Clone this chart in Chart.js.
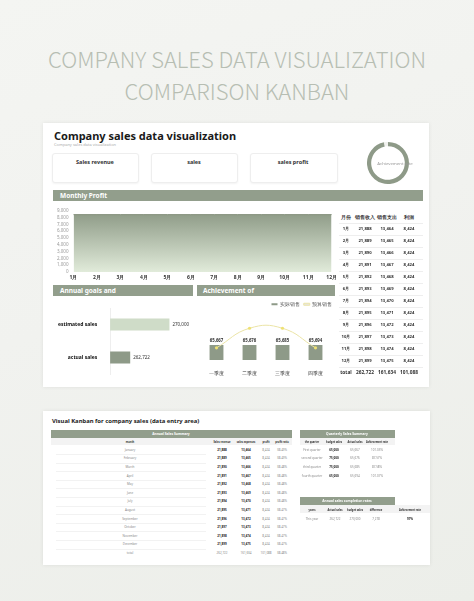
<!DOCTYPE html>
<html>
<head>
<meta charset="utf-8">
<script src="https://cdn.jsdelivr.net/npm/chart.js@4.4.0/dist/chart.umd.min.js"></script>
<style>
  html, body { margin:0; padding:0; }
  body { width:474px; height:601px; overflow:hidden; position:relative;
         font-family:"Noto Sans", sans-serif;
         background: linear-gradient(160deg, #f4f5f2 0%, #f1f2ef 45%, #eceee9 100%); }
  .t { position:absolute; white-space:nowrap; line-height:1; transform:translate(-50%,-50%); }
  .l { transform:translate(0,-50%); }
  .card { position:absolute; background:#fff; box-shadow:0 0 4px rgba(0,0,0,0.08); }
  .box { position:absolute; background:#fff; border:1px solid #eeeeee; border-radius:3px; box-shadow:0 1px 2px rgba(0,0,0,0.05); }
  .bar { position:absolute; background:#929e8c; }
  .hr { position:absolute; height:1px; background:#eeeeee; }
  canvas { position:absolute; }
  .title { font-family:"Noto Sans CJK SC","Noto Sans",sans-serif; font-weight:300; color:#b7beb3; font-size:22px; }
</style>
</head>
<body>

<div class="t title" style="left:237px;top:58px;">COMPANY SALES DATA VISUALIZATION</div>
<div class="t title" style="left:237px;top:90px;">COMPARISON KANBAN</div>

<div class="card" style="left:43px;top:123px;width:386px;height:264px;"></div>
<div class="card" style="left:43px;top:411px;width:387px;height:154px;"></div>

<div class="box" style="left:52px;top:153px;width:85px;height:28px;"></div>
<div class="box" style="left:151px;top:153px;width:85px;height:28px;"></div>
<div class="box" style="left:250px;top:153px;width:86px;height:28px;"></div>

<div class="bar" style="left:53px;top:190px;width:370px;height:11px;"></div>
<div class="bar" style="left:53px;top:285px;width:140px;height:11px;"></div>
<div class="bar" style="left:197px;top:285px;width:138px;height:11px;"></div>

<canvas id="ring" width="42" height="42" style="left:367px;top:142px;width:42px;height:42px;"></canvas>
<canvas id="profitChart" width="292" height="81" style="left:48px;top:203px;width:292px;height:81px;"></canvas>
<canvas id="goalChart" width="140" height="82" style="left:53px;top:300px;width:140px;height:82px;"></canvas>
<canvas id="quarterChart" width="140" height="82" style="left:196px;top:298px;width:140px;height:82px;"></canvas>

<div id="layer"></div>

<script>
// ---- data ----
const months = ['1月','2月','3月','4月','5月','6月','7月','8月','9月','10月','11月','12月'];
const monthNames = ['January','February','March','April','May','June','July','August','September','October','November','December'];
const revenue = [21888,21889,21890,21891,21892,21893,21894,21895,21896,21897,21898,21899];
const expenses = [13464,13465,13466,13467,13468,13469,13470,13471,13472,13473,13474,13475];
const profit = [8424,8424,8424,8424,8424,8424,8424,8424,8424,8424,8424,8424];
const profitRatio = ['38.49%','38.49%','38.48%','38.48%','38.48%','38.48%','38.48%','38.47%','38.47%','38.47%','38.47%','38.47%'];
const totals = ['262,722','161,634','101,088','38.48%'];
const profitTicks = [0,1000,2000,3000,4000,5000,6000,7000,8000,9000];

const goalLabels = ['estimated sales','actual sales'];
const goalValues = [270000,262722];

const quarters = ['一季度','二季度','三季度','四季度'];
const quarterNames = ['First quarter','second quarter','third quarter','fourth quarter'];
const actualSales = [65667,65676,65685,65694];
const budgetSales = [65000,75000,75000,65000];
const quarterRate = ['101.03%','87.57%','87.58%','101.07%'];

const achievement = 97;
const yearRow = ['This year','262,722','270,000','7,278','97%'];

const green = '#8e9a88';
const fmt = v => v.toLocaleString('en-US');

// ---- text helper ----
const layer = document.getElementById('layer');
function put(x, y, s, css, cls) {
  const d = document.createElement('div');
  d.className = 't' + (cls ? ' ' + cls : '');
  d.textContent = s;
  d.style.cssText = 'left:' + x + 'px;top:' + y + 'px;' + (css || '');
  layer.appendChild(d);
  return d;
}
function line(x, y, w, col) {
  const d = document.createElement('div');
  d.className = 'hr';
  d.style.cssText = 'left:' + x + 'px;top:' + y + 'px;width:' + w + 'px;' + (col ? 'background:' + col + ';' : '');
  layer.appendChild(d);
}
function block(x, y, w, h, col) {
  const d = document.createElement('div');
  d.style.cssText = 'position:absolute;left:' + x + 'px;top:' + y + 'px;width:' + w + 'px;height:' + h + 'px;background:' + col + ';';
  layer.appendChild(d);
}

// top card texts
put(54, 135, 'Company sales data visualization', 'font-size:11px;font-weight:700;color:#1a1a1a;', 'l');
put(54, 145, 'Company sales data visualization', 'font-size:4px;color:#aaa;', 'l');
put(95, 163, 'Sales revenue', 'font-size:5.5px;font-weight:700;color:#333;');
put(194, 163, 'sales', 'font-size:5.5px;font-weight:700;color:#333;');
put(293, 163, 'sales profit', 'font-size:5.5px;font-weight:700;color:#333;');
put(60, 195.5, 'Monthly Profit', 'font-size:6.5px;font-weight:700;color:#fff;', 'l');
put(60, 290.5, 'Annual goals and', 'font-size:6.5px;font-weight:700;color:#fff;', 'l');
put(203, 290.5, 'Achievement of', 'font-size:6.5px;font-weight:700;color:#fff;', 'l');

// monthly table (right side of top card)
const colX = [346, 365, 387, 409];
const thStyle = 'font-size:4.5px;font-weight:700;color:#333;';
const tdStyle = 'font-size:4.2px;font-weight:700;color:#333;';
['月份','销售收入','销售支出','利润'].forEach((h, i) => put(colX[i], 217, h, thStyle));
line(339, 223, 84);
months.forEach((m, i) => {
  const y = 229 + i * 12;
  put(colX[0], y, m, tdStyle);
  put(colX[1], y, fmt(revenue[i]), tdStyle);
  put(colX[2], y, fmt(expenses[i]), tdStyle);
  put(colX[3], y, fmt(profit[i]), tdStyle);
  line(339, y + 6, 84);
});
const totStyle = 'font-size:4.8px;font-weight:700;color:#333;';
put(colX[0], 372, 'total', totStyle);
totals.slice(0, 3).forEach((v, i) => put(colX[i + 1], 372, v, totStyle));

// bottom card
put(52, 422, 'Visual Kanban for company sales (data entry area)', 'font-size:5.9px;font-weight:700;color:#1a1a1a;', 'l');

block(51, 430, 241, 8, '#929e8c');
block(300, 430, 95, 8, '#929e8c');
block(300, 497, 95, 8, '#929e8c');
block(51, 438, 241, 7, '#f3f3f3');
block(300, 438, 95, 7, '#f3f3f3');
block(300, 505, 130, 8, '#f3f3f3');

const hs = 'font-size:3.3px;font-weight:700;color:#fff;';
put(171, 434, 'Annual Sales Summary', hs);
put(347, 434, 'Quarterly Sales Summary', hs);
put(347, 501, 'Annual sales completion rates', hs);

const ch = 'font-size:2.5px;font-weight:700;color:#333;';
const cb = 'font-size:3px;font-weight:700;color:#222;';
const cl = 'font-size:3px;color:#888;';
const bx = [130, 222, 246, 266, 282];
['month','Sales revenue','sales expenses','profit','profit ratio'].forEach((h, i) => put(bx[i], 441.7, h, ch));
monthNames.forEach((m, i) => {
  const y = 449.7 + i * 8.6;
  put(bx[0], y, m, cl);
  put(bx[1], y, fmt(revenue[i]), cb);
  put(bx[2], y, fmt(expenses[i]), cb);
  put(bx[3], y, fmt(profit[i]), cl);
  put(bx[4], y, profitRatio[i], cl);
  line(56, y + 4.3, 150, '#f2f2f2');
});
put(bx[0], 553, 'total', cl);
totals.forEach((v, i) => put(bx[i + 1], 553, v, cl));

const qx = [312, 334, 355, 377];
['the quarter','budget sales','Actual sales','Achievement rate'].forEach((h, i) => put(qx[i], 441.7, h, ch));
quarterNames.forEach((q, i) => {
  const y = 449.7 + i * 8.6;
  put(qx[0], y, q, cl);
  put(qx[1], y, fmt(budgetSales[i]), cb);
  put(qx[2], y, fmt(actualSales[i]), cl);
  put(qx[3], y, quarterRate[i], cl);
});

const yx = [312, 335, 355, 376, 410];
['years','Actual sales','budget sales','difference','Achievement rate'].forEach((h, i) => put(yx[i], 509.5, h, ch));
yearRow.forEach((v, i) => put(yx[i], 518.7, v, i === 4 ? cb : cl));

// ---- charts ----
Chart.defaults.font.family = '"Noto Sans", sans-serif';
Chart.defaults.animation = false;

// achievement ring
new Chart(document.getElementById('ring'), {
  type: 'doughnut',
  data: { labels: ['done', 'rest'], datasets: [{ data: [achievement, 100 - achievement], backgroundColor: [green, '#f1f2ef'], borderWidth: 0 }] },
  options: { responsive: false, cutout: '80%', plugins: { legend: { display: false }, tooltip: { enabled: false } } }
});
put(395, 163, 'Achievement rate', 'font-size:4.3px;color:#999;');

// monthly profit area
new Chart(document.getElementById('profitChart'), {
  type: 'line',
  data: {
    labels: months,
    datasets: [{
      data: profit,
      fill: true,
      borderColor: '#87947f',
      borderWidth: 1,
      pointRadius: 0,
      backgroundColor: c => {
        const a = c.chart.chartArea;
        if (!a) return green;
        const g = c.chart.ctx.createLinearGradient(0, a.top, 0, a.bottom);
        g.addColorStop(0, '#8b9884');
        g.addColorStop(1, '#e1ebda');
        return g;
      }
    }]
  },
  options: {
    responsive: false,
    layout: { padding: { left: 4, right: 3, top: 2 } },
    plugins: { legend: { display: false }, tooltip: { enabled: false } },
    scales: {
      x: { grid: { display: false, drawTicks: false }, border: { display: false },
           ticks: { font: { size: 5, weight: 'bold' }, color: '#333', padding: 3, maxRotation: 0, autoSkip: false } },
      y: { min: 0, max: 9000, afterBuildTicks: s => { s.ticks = profitTicks.map(v => ({ value: v })); },
           grid: { display: false, drawTicks: false }, border: { display: false },
           ticks: { font: { size: 4.5 }, color: '#999', padding: 5, autoSkip: false, callback: v => fmt(v) } }
    }
  }
});

// annual goals horizontal bars
new Chart(document.getElementById('goalChart'), {
  type: 'bar',
  data: { labels: goalLabels, datasets: [{ data: goalValues, backgroundColor: ['#cfdcc8', green], barPercentage: 0.36, categoryPercentage: 1 }] },
  options: {
    indexAxis: 'y',
    responsive: false,
    layout: { padding: { right: 2 } },
    plugins: { legend: { display: false }, tooltip: { enabled: false } },
    scales: {
      x: { min: 259000, max: 274000, display: false },
      y: { grid: { display: false }, border: { color: '#eeeeee' },
           ticks: { font: { size: 5, weight: 'bold' }, color: '#111', padding: 5 } }
    }
  },
  plugins: [{
    id: 'goalValues',
    afterDatasetsDraw(chart) {
      const ctx = chart.ctx;
      ctx.save();
      ctx.font = '4.5px "Noto Sans"';
      ctx.fillStyle = '#333';
      ctx.textBaseline = 'middle';
      chart.getDatasetMeta(0).data.forEach((el, i) => ctx.fillText(fmt(goalValues[i]), el.x + 3, el.y));
      ctx.restore();
    }
  }]
});

// quarterly achievement combo
new Chart(document.getElementById('quarterChart'), {
  data: {
    labels: quarters,
    datasets: [
      { type: 'line', label: '预算销售', data: budgetSales, yAxisID: 'y1', borderColor: '#ebe4a6', borderWidth: 1,
        pointRadius: 1.6, pointBackgroundColor: '#efe173', pointBorderWidth: 0, tension: 0.45, order: 0 },
      { type: 'bar', label: '实际销售', data: actualSales, yAxisID: 'y', backgroundColor: green,
        barPercentage: 0.42, categoryPercentage: 1, order: 1 }
    ]
  },
  options: {
    responsive: false,
    layout: { padding: { left: 0, right: 0, top: 0 } },
    plugins: {
      tooltip: { enabled: false },
      legend: { position: 'top', align: 'end', reverse: true,
        labels: { font: { size: 4.5 }, color: '#555', boxWidth: 6, boxHeight: 2, padding: 4 } }
    },
    scales: {
      x: { grid: { display: false }, border: { display: false },
           ticks: { font: { size: 5 }, color: '#333', padding: 3 } },
      y: { min: 0, max: 190000, display: false },
      y1: { min: 58800, max: 81000, display: false }
    }
  },
  plugins: [{
    id: 'barValues',
    afterDatasetsDraw(chart) {
      const ctx = chart.ctx;
      ctx.save();
      ctx.font = 'bold 4.3px "Noto Sans"';
      ctx.fillStyle = '#333';
      ctx.textAlign = 'center';
      ctx.textBaseline = 'bottom';
      chart.getDatasetMeta(1).data.forEach((el, i) => ctx.fillText(fmt(actualSales[i]), el.x, el.y - 2));
      ctx.restore();
    }
  }]
});
</script>
</body>
</html>
